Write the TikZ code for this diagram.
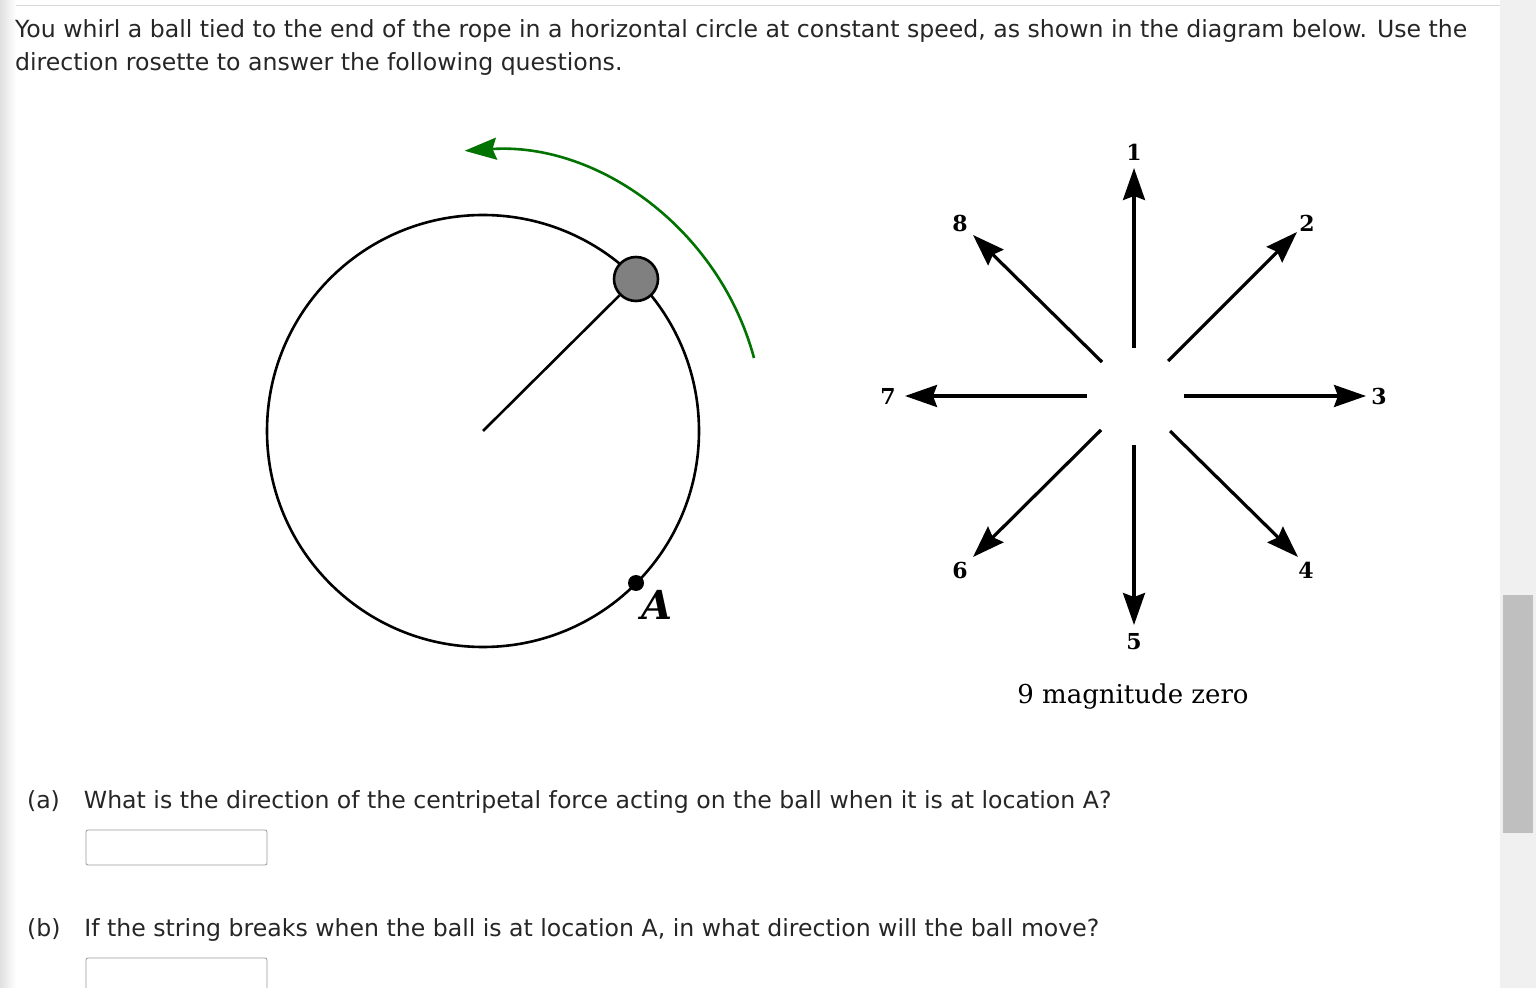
\documentclass[tikz,border=0pt]{standalone}
\usepackage{fontspec}
\setmainfont{DejaVu Sans}
\newfontfamily\lblfont{DejaVu Serif}
\usetikzlibrary{arrows.meta}
\begin{document}
\begin{tikzpicture}[x=0.5pt,y=-0.5pt,
  rose/.style={line width=1.6pt,-{Stealth[length=16pt,width=11pt,inset=2pt]}},
  num/.style={font=\lblfont\bfseries\fontsize{11}{13}\selectfont},
  txt/.style={anchor=west,font=\fontsize{11.8}{14}\selectfont,text=black!85}]
\useasboundingbox (0,0) rectangle (1536,988);
\fill[white] (0,0) rectangle (1536,988);
\shade[left color=black!12,right color=white] (0,0) rectangle (16,988);
\fill[black!6] (1500,0) rectangle (1536,988);
\fill[black!25] (1503,595) rectangle (1533,833);
\draw[black!15] (16,5) -- (1500,5);
\node[txt] (t1) at (8,31) {You whirl a ball tied to the end of the rope in a horizontal circle at constant speed, as shown in the diagram below. Use the};
\node[txt] (t2) at (8,64) {direction rosette to answer the following questions.};
% circle
\coordinate (O) at (483,431);
\draw[line width=1.3pt] (O) circle (216);
\node[draw,line width=1.3pt,fill=black!50,circle,minimum size=22pt,inner sep=0] (ball) at (636,279) {};
\draw[line width=1.3pt] (O) -- (ball);
\node[fill=black,circle,minimum size=8pt,inner sep=0] (A) at (636,583) {};
\node[font=\lblfont\bfseries\itshape\fontsize{20}{22}\selectfont] (Al) at (657,605) {A};
\draw[green!45!black,line width=1.3pt,-{Stealth[length=16pt,width=11pt,inset=2pt]}] (754,358) arc[start angle=-15.1,end angle=-93.7,radius=281];
% rosette
\coordinate (C) at (1134,396);
\node[num] (n1) at (1134,152) {1};
\node[num] (n2) at (1307,223) {2};
\node[num] (n3) at (1379,396) {3};
\node[num] (n4) at (1306,570) {4};
\node[num] (n5) at (1134,642) {5};
\node[num] (n6) at (960,570) {6};
\node[num] (n7) at (888,396) {7};
\node[num] (n8) at (960,223) {8};
\draw[rose] (1134,348) -- (1134,168);
\draw[rose] (1168,361) -- (1297,232);
\draw[rose] (1184,396) -- (1366,396);
\draw[rose] (1170,431) -- (1298,557);
\draw[rose] (1134,445) -- (1134,625);
\draw[rose] (1101,430) -- (973,557);
\draw[rose] (1087,396) -- (905,396);
\draw[rose] (1102,362) -- (973,235);
\node[font=\lblfont\fontsize{13}{15}\selectfont] (z) at (1133,697) {9 magnitude zero};
% questions
\node[txt] (qa) at (20,802) {(a)\hspace{12pt}What is the direction of the centripetal force acting on the ball when it is at location A?};
\draw[black!40,rounded corners=1pt] (86,830) rectangle (267,865);
\node[txt] (qb) at (20,930) {(b)\hspace{12pt}If the string breaks when the ball is at location A, in what direction will the ball move?};
\draw[black!40,rounded corners=1pt] (86,958) rectangle (267,995);
\end{tikzpicture}
\end{document}
